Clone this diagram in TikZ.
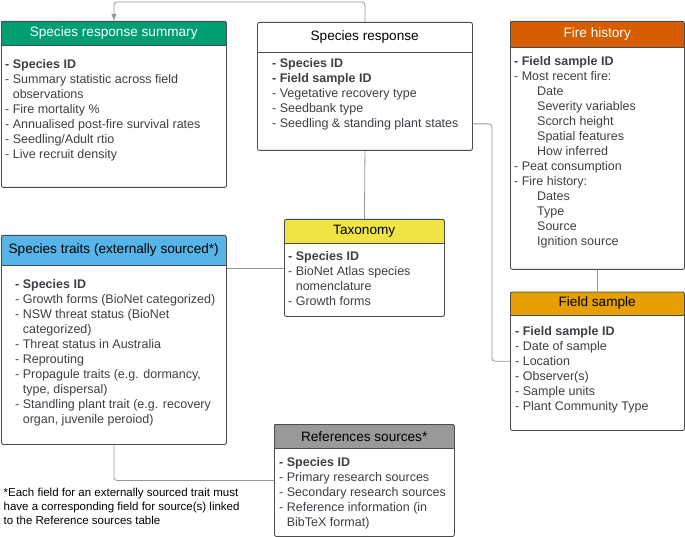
\documentclass[tikz,border=0pt]{standalone}
\definecolor{okgreen}{RGB}{0,158,115}
\definecolor{okvermillion}{RGB}{213,94,0}
\definecolor{okskyblue}{RGB}{86,180,233}
\definecolor{okyellow}{RGB}{240,228,66}
\definecolor{okorange}{RGB}{230,159,0}
\definecolor{refgray}{RGB}{153,153,153}
\definecolor{boxedge}{RGB}{75,75,80}
\definecolor{linkgray}{RGB}{150,150,150}
\definecolor{fieldtext}{RGB}{62,62,68}
\usepackage{fontspec}
\setmainfont{Liberation Sans}
\usepackage{tikz}
\usetikzlibrary{arrows.meta,positioning}

\newcommand{\wrapind}{\phantom{- }}
\newcommand{\subind}{\hspace*{23pt}}

\tikzset{
  tbl/.style={draw=boxedge, line width=0.9pt, rounded corners=2pt, anchor=north west, inner sep=0pt},
  hdr/.style={anchor=north west, inner sep=0pt, font=\fontsize{13.6}{16}\selectfont},
  fld/.style={align=left, inner sep=0pt, text=fieldtext, font=\fontsize{12.5}{15}\selectfont},
  link/.style={draw=linkgray, line width=0.8pt, rounded corners=3pt},
}

\begin{document}
\begin{tikzpicture}[x=1pt,y=-1pt]
                \useasboundingbox (0,0) rectangle (685,537);

                % Species response summary
                \node[hdr, fill=okgreen, text=white, minimum width=225, minimum height=24] (summary-h) at (1,21) {Species response summary};
                \node[tbl, minimum width=225, minimum height=166] (summary) at (summary-h.north west) {};
                \draw[boxedge, line width=0.9pt] (summary-h.south west) -- (summary-h.south east);
                \node[fld, below right=13.5pt and 4pt of summary-h.south west] (summary-b) {\textbf{- Species ID}\\
                  - Summary statistic across field\\
                  \wrapind observations\\
                  - Fire mortality \%\\
                  - Annualised post-fire survival rates\\
                  - Seedling/Adult rtio\\
                  - Live recruit density};

                % Species response
                \node[hdr, minimum width=215, minimum height=30] (response-h) at (257,22) {Species response};
                \node[tbl, minimum width=215, minimum height=128] (response) at (response-h.north west) {};
                \draw[boxedge, line width=0.9pt] (response-h.south west) -- (response-h.south east);
                \node[fld, below right=5.5pt and 15pt of response-h.south west] (response-b) {\textbf{- Species ID}\\
                  \textbf{- Field sample ID}\\
                  - Vegetative recovery type\\
                  - Seedbank type\\
                  - Seedling \& standing plant states};

                % Fire history
                \node[hdr, fill=okvermillion, text=white, minimum width=174, minimum height=26] (fire-h) at (510,21) {Fire history};
                \node[tbl, minimum width=174, minimum height=248] (fire) at (fire-h.north west) {};
                \draw[boxedge, line width=0.9pt] (fire-h.south west) -- (fire-h.south east);
                \node[fld, below right=9pt and 4pt of fire-h.south west] (fire-b) {\textbf{- Field sample ID}\\
                  - Most recent fire:\\
                  \subind Date\\
                  \subind Severity variables\\
                  \subind Scorch height\\
                  \subind Spatial features\\
                  \subind How inferred\\
                  - Peat consumption\\
                  - Fire history:\\
                  \subind Dates\\
                  \subind Type\\
                  \subind Source\\
                  \subind Ignition source};

                % Species traits
                \node[hdr, fill=okskyblue, text=black, minimum width=225, minimum height=30.5] (traits-h) at (1,235) {Species traits (externally sourced*)};
                \node[tbl, minimum width=225, minimum height=209] (traits) at (traits-h.north west) {};
                \draw[boxedge, line width=0.9pt] (traits-h.south west) -- (traits-h.south east);
                \node[fld, below right=13.5pt and 14pt of traits-h.south west] (traits-b) {\textbf{- Species ID}\\
                  - Growth forms (BioNet categorized)\\
                  - NSW threat status (BioNet\\
                  \wrapind categorized)\\
                  - Threat status in Australia\\
                  - Reprouting\\
                  - Propagule traits (e.g. dormancy,\\
                  \wrapind type, dispersal)\\
                  - Standling plant trait (e.g. recovery\\
                  \wrapind organ, juvenile peroiod)};

                % Taxonomy
                \node[hdr, fill=okyellow, text=black, minimum width=160, minimum height=24] (taxon-h) at (284,219) {Taxonomy};
                \node[tbl, minimum width=160, minimum height=97] (taxon) at (taxon-h.north west) {};
                \draw[boxedge, line width=0.9pt] (taxon-h.south west) -- (taxon-h.south east);
                \node[fld, below right=7.5pt and 4pt of taxon-h.south west] (taxon-b) {\textbf{- Species ID}\\
                  - BioNet Atlas species\\
                  \wrapind nomenclature\\
                  - Growth forms};

                % Field sample
                \node[hdr, fill=okorange, text=black, minimum width=174, minimum height=23.5] (sample-h) at (510,291.5) {Field sample};
                \node[tbl, minimum width=174, minimum height=138.5] (sample) at (sample-h.north west) {};
                \draw[boxedge, line width=0.9pt] (sample-h.south west) -- (sample-h.south east);
                \node[fld, below right=10.5pt and 5pt of sample-h.south west] (sample-b) {\textbf{- Field sample ID}\\
                  - Date of sample\\
                  - Location\\
                  - Observer(s)\\
                  - Sample units\\
                  - Plant Community Type};

                % References sources
                \node[hdr, fill=refgray, text=black, minimum width=180, minimum height=24.5] (refs-h) at (274,424) {References sources*};
                \node[tbl, minimum width=180, minimum height=112] (refs) at (refs-h.north west) {};
                \draw[boxedge, line width=0.9pt] (refs-h.south west) -- (refs-h.south east);
                \node[fld, below right=8.5pt and 5pt of refs-h.south west] (refs-b) {\textbf{- Species ID}\\
                  - Primary research sources\\
                  - Secondary research sources\\
                  - Reference information (in\\
                  \wrapind BibTeX format)};

                % Footnote
                \node[align=left, inner sep=0pt, anchor=north west, font=\fontsize{11.5}{14.3}\selectfont] (note) at (3.5,487.5) {*Each field for an externally sourced trait must\\
                  have a corresponding field for source(s) linked\\
                  to the Reference sources table};

                % Links between tables
                \coordinate[yshift=27pt] (response-out) at (response.south east);
                \draw[link, -{Latex[length=7pt,width=5.5pt]}] (response.north) -- ++(0,-20) -| (summary.north);
                \draw[link] (response.south) -- (taxon.north);
                \draw[link] (response-out) -- ++(19,0) |- (sample.west);
                \draw[link] (traits.east |- taxon.west) -- (taxon.west);
                \draw[link] (fire.south) -- (sample.north);
                \draw[link] (traits.south) |- (refs.west);
            \end{tikzpicture}
\end{document}
